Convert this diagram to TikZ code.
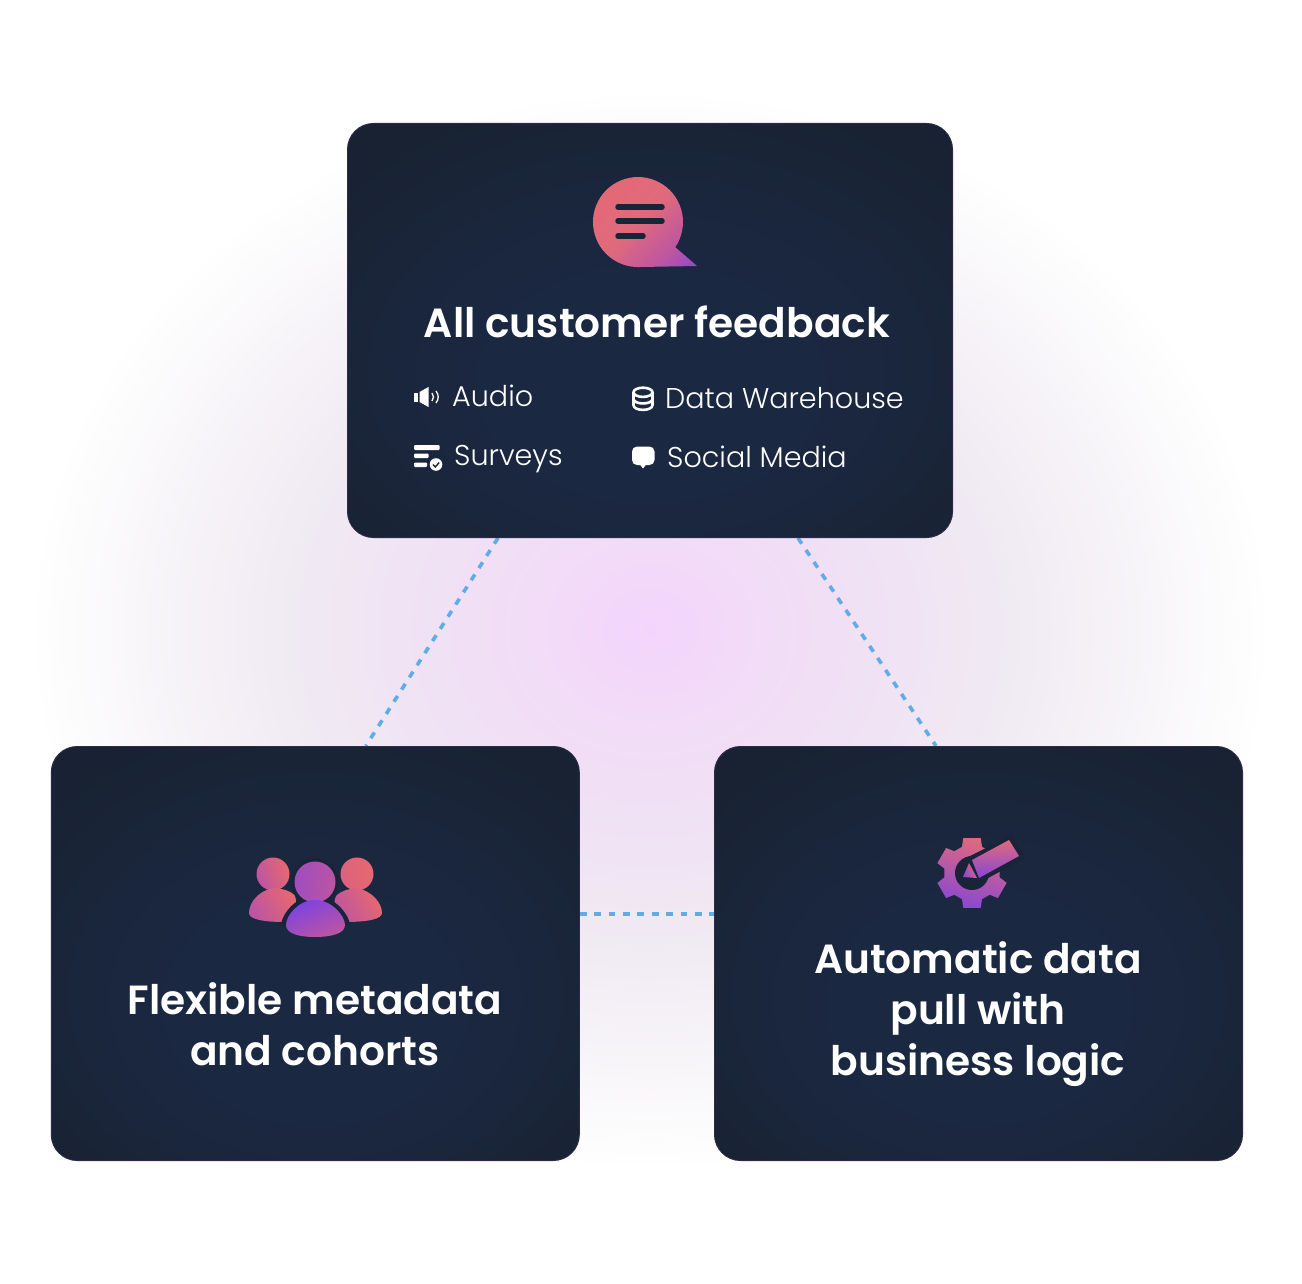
\documentclass[tikz,border=0pt]{standalone}
\usepackage{fontspec}
\usetikzlibrary{backgrounds,calc}
\setmainfont{Poppins}
\newfontfamily\headfont{Poppins SemiBold}
\newfontfamily\subfont{Poppins Light}
\definecolor{g0}{HTML}{F4D4FC}\definecolor{g1}{HTML}{F2DCF7}\definecolor{g2}{HTML}{F0E3F4}
\definecolor{g3}{HTML}{F0EAF3}\definecolor{g4}{HTML}{F8F6F9}
\definecolor{c0}{HTML}{1B2842}\definecolor{c1}{HTML}{1A263C}\definecolor{c2}{HTML}{182232}
\definecolor{edgec}{HTML}{2B2A48}\definecolor{dark}{HTML}{1A2438}\definecolor{dotc}{HTML}{5FADE8}
\definecolor{coral}{HTML}{E8686F}\definecolor{coral2}{HTML}{E06A7C}\definecolor{mauve}{HTML}{BC55A2}\definecolor{viol}{HTML}{7B43E2}
\pgfdeclareradialshading{glowshade}{\pgfpoint{0bp}{0bp}}{color(0bp)=(g0);color(4.5bp)=(g1);color(10bp)=(g2);color(14.5bp)=(g3);color(20.5bp)=(g4);color(25bp)=(white);color(50bp)=(white)}
\pgfdeclareradialshading{cardshade}{\pgfpoint{0bp}{-9bp}}{color(0bp)=(c0);color(12bp)=(c0);color(22bp)=(c1);color(33bp)=(c2);color(50bp)=(c2)}
\pgfdeclarehorizontalshading{iconshade}{100bp}{color(0bp)=(coral);color(50bp)=(coral2);color(72bp)=(mauve);color(92bp)=(viol);color(100bp)=(viol)}
\tikzset{
 card/.style={draw=edgec,line width=1pt,rounded corners=26pt,shading=cardshade,inner sep=0pt,minimum height=414pt},
 head/.style={font=\headfont\fontsize{40.7}{51}\selectfont,text=white,align=center,inner sep=0pt},
 sub/.style={font=\subfont\fontsize{28.6}{33}\selectfont,text=white,inner sep=0pt,anchor=base west},
 link/.style={draw=dotc,line width=3.6pt,dash pattern=on 6.8pt off 7.6pt},
 grad/.style={shading=iconshade,shading angle=-45},
 glyph/.style={fill=white,draw=none},
 bar/.style={line cap=round,line width=5.5pt,draw=dark},
}
\begin{document}
\begin{tikzpicture}[x=1pt,y=-1pt]
\useasboundingbox (0,0) rectangle (1302,1284);
% cards
\node[card,minimum width=605pt] (top) at (650,330.5) {};
\node[card,minimum width=528pt] (left) at (315.3,953.5) {};
\node[card,minimum width=528pt] (right) at (978.5,953.5) {};
% background
\begin{scope}[on background layer]
\shade[shading=glowshade] (650,630) ellipse (620 and 540);
\coordinate (a1) at ($(top.south west)+(151,0)$);
\coordinate (a2) at ($(left.north west)+(315,0)$);
\coordinate (b1) at ($(top.south west)+(451,0)$);
\coordinate (b2) at ($(right.north west)+(222,0)$);
\coordinate (c1) at ($(left.north east)+(0,168)$);
\coordinate (c2) at ($(right.north west)+(0,168)$);
\draw[link] (a1) -- (a2);
\draw[link] (b1) -- (b2);
\draw[link] (c1) -- (c2);
\end{scope}
% headings
\node[head] (t1) at (657,321.5) {All customer feedback};
\node[head] (t2) at (315,1024.5) {Flexible metadata\\and cohorts};
\node[head] (t3) at (978,1014.5) {Automatic data\\pull with\\business logic};
% list labels
\node[sub] (s1) at (452,406.5) {Audio};
\node[sub] (s2) at (665,408.5) {Data Warehouse};
\node[sub] (s3) at (454,465.5) {Surveys};
\node[sub] (s4) at (667,467.5) {Social Media};
% speech bubble icon
\shade[grad] (675.3,247.2) arc (34:-270:45) -- (697,266) -- cycle;
\draw[bar] (618,207) -- (662,207);
\draw[bar] (618,221) -- (662,221);
\draw[bar] (618,236) -- (643,236);
% people icon
\shade[left color=coral,right color=mauve,shading angle=-70] (273,874) circle (16.5);
\shade[left color=coral,right color=mauve,shading angle=-60] (273,888) .. controls (258,891) and (249,903) .. (249,913) .. controls (249,919) and (262,922) .. (285,922) .. controls (295,922) and (298,905) .. (295,896) .. controls (290,890) and (283,889) .. (273,888) -- cycle;
\shade[left color=coral,right color=coral!70!mauve,shading angle=-70] (357,874) circle (16.5);
\shade[left color=coral,right color=mauve,shading angle=-60] (357,888) .. controls (372,891) and (382,903) .. (382,913) .. controls (382,919) and (368,922) .. (345,922) .. controls (335,922) and (332,905) .. (336,896) .. controls (342,890) and (349,889) .. (357,888) -- cycle;
\fill[dark] (315,882) circle (24);
\fill[dark] (315,895) .. controls (292,897) and (281,918) .. (281,925) -- (350,925) .. controls (350,918) and (338,897) .. (315,895) -- cycle;
\shade[left color=mauve,right color=viol!45!mauve,shading angle=-100] (315,882) circle (20.5);
\shade[left color=viol,right color=mauve,shading angle=25] (315,900) .. controls (298,900) and (286,916) .. (286,925) .. controls (286,934) and (300,937) .. (315,937) .. controls (330,937) and (345,934) .. (345,925) .. controls (345,916) and (332,900) .. (315,900) -- cycle;
% gear icon
\shade[left color=coral2,right color=viol!75!mauve,shading angle=-15]
  ([shift={(972,873)}]44:36)
  foreach \a in {30,-30,-90,-150,-210,-270}{
    -- ([shift={(972,873)}]\a+14:36) -- ([shift={(972,873)}]\a-14:36)
    -- ([shift={(972,873)}]\a-21:28) -- ([shift={(972,873)}]\a-39:28)
  } -- cycle;
\fill[dark] (972,873) circle (17);
\fill[dark] (1012,835) -- (1025,858) -- (977,884) -- (957,882) -- (966,858) -- cycle;
\shade[top color=coral2,bottom color=viol!80!mauve] (1009,840) -- (1019,856) -- (979,878) -- (972,860) -- cycle;
\shade[left color=coral2,right color=viol!70!mauve,shading angle=-60] (969,863) -- (977,878) -- (963,877) -- cycle;
% speaker glyph
\fill[glyph] (414,392.5) -- (418,392.5) -- (418,401.5) -- (414,401.5) -- cycle;
\fill[glyph] (419.5,392) -- (428.5,387) -- (428.5,407) -- (419.5,402) -- cycle;
\draw[white,line width=1.3pt] (432,393) .. controls (434,395.5) and (434,398.5) .. (432,401);
\draw[white,line width=1.3pt] (436,391) .. controls (439,395) and (439,399) .. (436,403);
% survey glyph
\fill[glyph,rounded corners=1pt] (414,445) rectangle (439.5,450);
\fill[glyph,rounded corners=1pt] (414,453.5) rectangle (428.5,458);
\fill[glyph,rounded corners=1pt] (414,462.5) rectangle (427,467);
\fill[glyph] (436,464.5) circle (6.3);
\draw[dark,line width=1.4pt] (433,464.5) -- (435.3,467) -- (439.2,462.5);
% database glyph
\draw[white,line width=2.6pt] (643,392.3) ellipse (9.5 and 4.6);
\draw[white,line width=2.6pt] (633.5,392.3) -- (633.5,405) .. controls (633.5,411.5) and (652.5,411.5) .. (652.5,405) -- (652.5,392.3);
\draw[white,line width=2.6pt] (633.5,398.8) .. controls (633.5,405) and (652.5,405) .. (652.5,398.8);
% chat glyph
\fill[glyph,rounded corners=5pt] (632,446.5) -- (654.5,446.5) -- (654.5,465) -- (632,465) -- cycle;
\fill[glyph] (639.5,464) -- (646.5,464) -- (643,468.5) -- cycle;
\end{tikzpicture}
\end{document}
